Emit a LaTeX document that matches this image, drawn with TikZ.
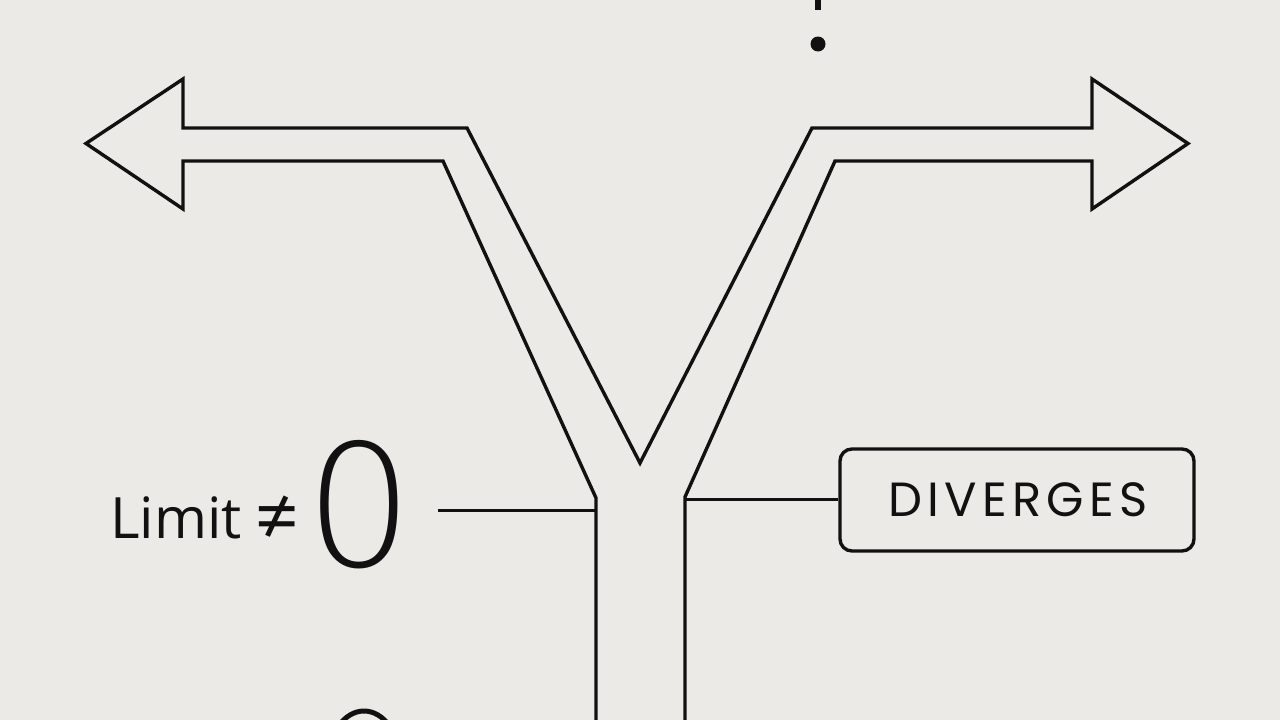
\documentclass[tikz,border=0pt]{standalone}
\usepackage{fontspec}
\setmainfont{Open Sans}
\newfontfamily\divfont[LetterSpace=11]{Poppins}
\newfontfamily\zerofont{DejaVu Sans ExtraLight}
\definecolor{bg}{HTML}{ECEAE6}
\definecolor{ink}{HTML}{111111}
\begin{document}
\begin{tikzpicture}[x=1pt,y=-1pt,
  outline/.style={draw=ink,line width=3.4pt,line join=miter},
  conn/.style={draw=ink,line width=3pt},
  boxstyle/.style={draw=ink,line width=3.4pt,rounded corners=12pt,minimum width=354pt,minimum height=102pt,inner sep=0pt}]
\fill[bg] (0,0) rectangle (1280,720);
\useasboundingbox (0,0) rectangle (1280,720);
\begin{scope}
\clip (0,0) rectangle (1280,720);
% Y-shaped double arrow
\draw[outline] (596,730) -- (596,498) -- (443,161) -- (183,161) -- (183,209) -- (86,143.5) -- (183,79) -- (183,128) -- (467,128) -- (640,463) -- (812,128) -- (1092,128) -- (1092,79) -- (1188,143.5) -- (1092,209) -- (1092,161) -- (835,161) -- (685,497) -- (685,730);
% top mark
\fill[ink] (815,-2) rectangle (821,10);
\fill[ink] (818,44) circle (7.5);
% bottom partial zero
\draw[ink,line width=5pt] (364,762) ellipse (36 and 51);
\end{scope}
\coordinate (ljoin) at (596,510);
\coordinate (rjoin) at (685,499);
\node[anchor=base west,inner sep=0pt,font=\fontsize{57}{60}\selectfont,text=ink] (limit) at (110,538) {Limit\hspace{14pt}\raisebox{-5pt}{\fontsize{76}{76}\selectfont ≠}};
\node[inner sep=0pt,font=\zerofont\fontsize{170}{170}\selectfont,text=ink,anchor=center] (zero) at (360,505) {0};
\node[boxstyle] (div) at (1017,500) {};
\node[anchor=center,inner sep=0pt,font=\divfont\fontsize{48}{50}\selectfont,text=ink] (divtext) at (1018,500) {DIVERGES};
\draw[conn] ([xshift=24pt]zero.east |- ljoin) -- (ljoin);
\draw[conn] (rjoin) -- (div.west |- rjoin);
\end{tikzpicture}
\end{document}
